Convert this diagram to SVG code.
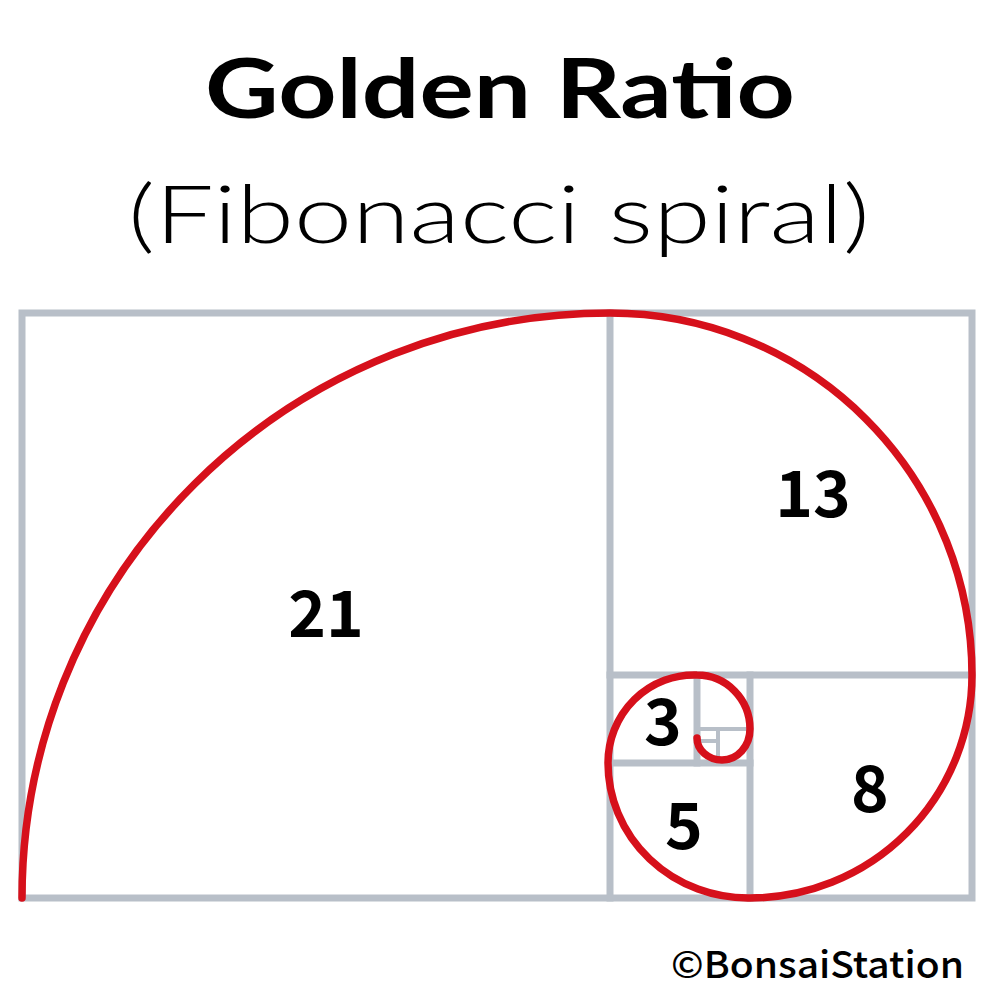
<svg xmlns="http://www.w3.org/2000/svg" width="1000" height="1000" viewBox="0 0 1000 1000">
<style>
.title{font-family:Lato,"Open Sans","Liberation Sans",sans-serif;font-size:82px;font-weight:700;fill:#000;text-anchor:middle}
.sub{font-family:Lato,"Open Sans","Liberation Sans",sans-serif;font-size:80px;font-weight:300;fill:#000;text-anchor:middle}
.num{font-family:"Noto Sans CJK JP","Noto Sans",sans-serif;font-size:64px;font-weight:700;fill:#000;text-anchor:middle}
.copy{font-family:"Noto Sans CJK JP","Noto Sans",sans-serif;font-size:37px;font-weight:500;fill:#000}
.grid{stroke:#b8bfc8;stroke-width:7;fill:none;stroke-linecap:square}
.thin{stroke:#b8bfc8;stroke-width:4;fill:none}
.spiral{stroke:#d6101b;stroke-width:7.5;fill:none;stroke-linecap:round;stroke-linejoin:round}
</style>
<rect width="1000" height="1000" fill="#fff"/>
<text class="title" x="500" y="118" textLength="590" lengthAdjust="spacingAndGlyphs">Golden Ratio</text>
<text class="sub" x="499" y="243" textLength="742" lengthAdjust="spacingAndGlyphs">(Fibonacci spiral)</text>
<g id="grid">
<rect class="grid" x="22" y="313" width="950" height="585"/>
<line class="grid" x1="610" y1="313" x2="610" y2="898"/>
<line class="grid" x1="610" y1="675" x2="972" y2="675"/>
<line class="grid" x1="750" y1="675" x2="750" y2="898"/>
<line class="grid" x1="610" y1="763" x2="750" y2="763"/>
<line class="grid" x1="697" y1="675" x2="697" y2="763"/>
<line class="thin" x1="697" y1="729" x2="750" y2="729"/>
<line class="thin" x1="718" y1="729" x2="718" y2="763"/>
<line class="thin" x1="697" y1="741" x2="718" y2="741"/>
</g>
<g id="labels">
<g id="n21"><text class="num" x="326" y="637">21</text></g>
<g id="n13"><text class="num" x="813" y="517">13</text></g>
<g id="n8"><text class="num" x="870" y="812">8</text></g>
<g id="n5"><text class="num" x="684" y="849">5</text></g>
<g id="n3"><text class="num" x="663" y="745">3</text></g>
</g>
<g id="connectors">
<path class="spiral" d="M 22 898 A 588 585 0 0 1 610 313 A 362 362 0 0 1 972 675 A 222 223 0 0 1 750 898 A 140 135 0 0 1 608 763 A 86 88 0 0 1 697 675 A 53 54 0 0 1 750 729 A 28 31 0 0 1 722 760 A 25 22 0 0 1 697 738"/>
</g>
<text class="copy" x="671" y="978" textLength="293" lengthAdjust="spacingAndGlyphs">©BonsaiStation</text>
</svg>
